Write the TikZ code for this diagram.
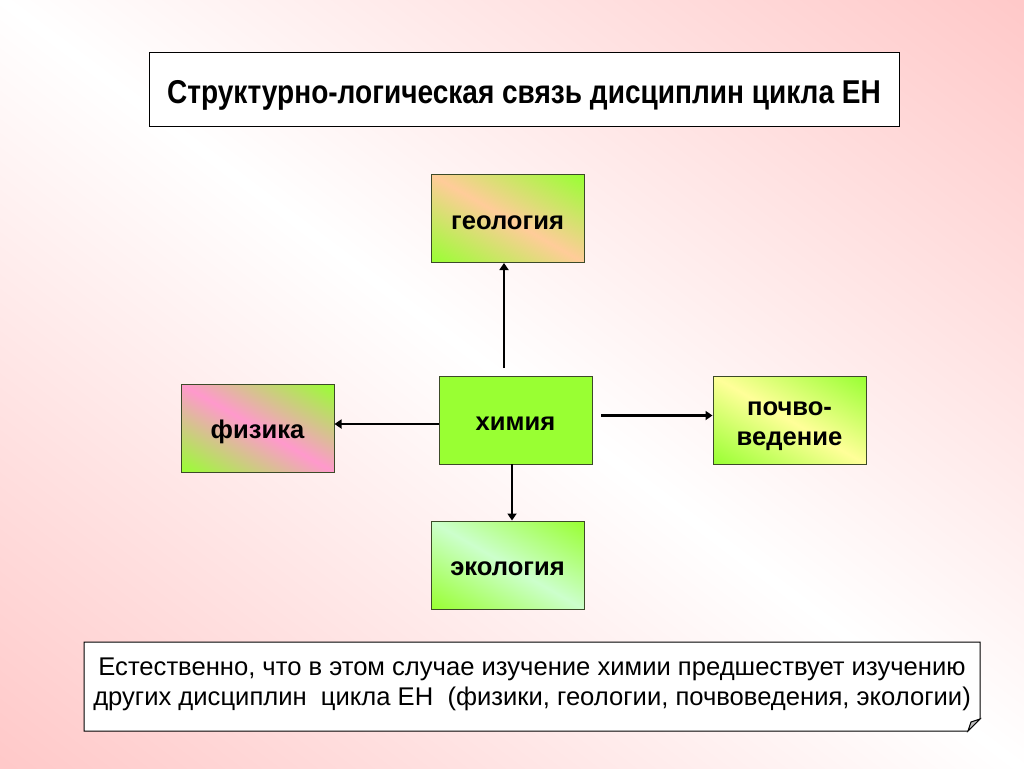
\documentclass[tikz,border=0pt]{standalone}
\usepackage{fontspec}
\setmainfont{Liberation Sans}
\newfontfamily\titlefont[FakeStretch=0.85]{Liberation Sans}
\usetikzlibrary{arrows.meta}
\definecolor{gr}{HTML}{99FF33}
\definecolor{peach}{HTML}{FFCC99}
\definecolor{pinkc}{HTML}{FF99CC}
\definecolor{yel}{HTML}{FFFF99}
\definecolor{lgr}{HTML}{CCFFCC}
\definecolor{bgp}{HTML}{FFC4C4}
\definecolor{edgec}{HTML}{3C4A28}
\pgfdeclarehorizontalshading{bgshade}{100bp}{color(0bp)=(bgp);color(12bp)=(bgp);color(50bp)=(white);color(88bp)=(bgp);color(100bp)=(bgp)}
\pgfdeclarehorizontalshading{peachshade}{100bp}{color(0bp)=(gr);color(16bp)=(gr);color(50bp)=(peach);color(84bp)=(gr);color(100bp)=(gr)}
\pgfdeclarehorizontalshading{pinkshade}{100bp}{color(0bp)=(gr);color(16bp)=(gr);color(50bp)=(pinkc);color(84bp)=(gr);color(100bp)=(gr)}
\pgfdeclarehorizontalshading{yelshade}{100bp}{color(0bp)=(gr);color(16bp)=(gr);color(50bp)=(yel);color(84bp)=(gr);color(100bp)=(gr)}
\pgfdeclarehorizontalshading{lgrshade}{100bp}{color(0bp)=(gr);color(16bp)=(gr);color(50bp)=(lgr);color(84bp)=(gr);color(100bp)=(gr)}
\tikzset{
  disc/.style={draw=edgec,line width=1pt,minimum width=153pt,minimum height=88pt,inner sep=0pt,text height=25pt,text depth=4pt,
    font=\fontsize{25.6}{30}\selectfont\bfseries},
  grad/.style={disc,shade,shading=#1,shading angle=60},
  link/.style={line width=2.5pt,-{Triangle[length=7pt,width=9pt]}},
  whitebox/.style={draw=black,line width=1pt,fill=white,inner sep=0pt}
}
\begin{document}
\begin{tikzpicture}[x=1pt,y=-1pt]
\useasboundingbox (0,0) rectangle (1024,768);
\shade[shading=bgshade,shading angle=53] (0,0) rectangle (1024,768);
\node[whitebox,minimum width=750pt,minimum height=73pt,text height=32pt,text depth=4pt,font=\titlefont\fontsize{33}{38}\selectfont\bfseries] (title) at (524,89.5) {Структурно-логическая связь дисциплин цикла ЕН};
\node[grad=peachshade] (geo) at (507.5,218.5) {геология};
\node[disc,fill=gr] (chem) at (515.5,420) {химия};
\node[grad=pinkshade] (phys) at (257.5,428) {физика};
\node[grad=yelshade] (soil) at (789.5,420) {\begin{tabular}{@{}c@{}}почво-\\ведение\end{tabular}};
\node[grad=lgrshade] (eco) at (507.5,565) {экология};
\coordinate (upstart) at (504,368);
\coordinate (rightstart) at (601,415.5);
\coordinate (leftstart) at (439,424);
\coordinate (downstart) at (512,464);
\draw[link] (upstart) -- (upstart |- geo.south);
\draw[link] (rightstart) -- (rightstart -| soil.west);
\draw[link] (leftstart) -- (leftstart -| phys.east);
\draw[link] (downstart) -- (downstart |- eco.north);
\draw[line width=1pt,fill=white] (84,642) -- (980,642) -- (980,719) -- (968,731) -- (84,731) -- cycle;
\draw[line width=1pt,fill=black!25] (968,731) -- (971,722) -- (980,719) -- cycle;
\node[inner sep=0pt,align=center,font=\fontsize{25.6}{30}\selectfont] (note) at (532,684) {Естественно, что в этом случае изучение химии предшествует изучению\\других дисциплин\ \ цикла ЕН\ \ (физики, геологии, почвоведения, экологии)};
\end{tikzpicture}
\end{document}
